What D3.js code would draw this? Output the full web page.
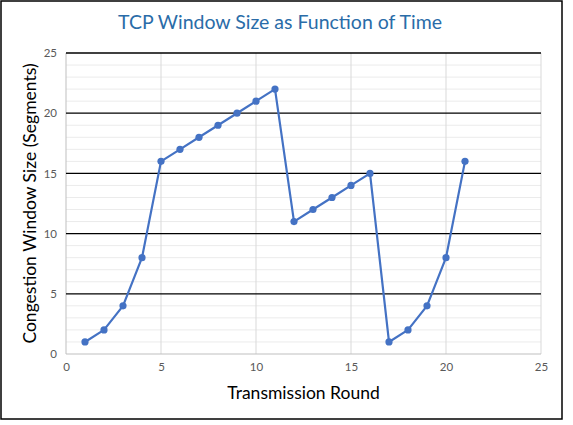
<!DOCTYPE html>
<html><head><meta charset="utf-8">
<script src="https://cdn.jsdelivr.net/npm/d3@7"></script>
<style>body{margin:0;background:#fff}svg{display:block}</style>
</head><body>
<script>
const rounds = [1,2,3,4,5,6,7,8,9,10,11,12,13,14,15,16,17,18,19,20,21];
const windowSize = [1,2,4,8,16,17,18,19,20,21,22,11,12,13,14,15,1,2,4,8,16];
const xTicks = [0,5,10,15,20,25];
const yTicks = [0,5,10,15,20,25];
const title = "TCP Window Size as Function of Time";
const xTitle = "Transmission Round";
const yTitle = "Congestion Window Size (Segments)";

const W = 573, H = 425;
const svg = d3.select("body").append("svg").attr("width", W).attr("height", H);
svg.append("rect").attr("x",1).attr("y",1).attr("width",561).attr("height",418)
  .attr("fill","#fff").attr("stroke","#000").attr("stroke-width",1.5);

const x = d3.scaleLinear().domain([0,25]).range([66,541]);
const y = d3.scaleLinear().domain([0,25]).range([354,53]);
const font = "Lato, 'Open Sans', sans-serif";

// minor horizontal gridlines
svg.append("g").selectAll("line").data(d3.range(1,25).filter(v=>v%5)).join("line")
  .attr("x1",x(0)).attr("x2",x(25)).attr("y1",d=>y(d)).attr("y2",d=>y(d))
  .attr("stroke","#ebebeb").attr("stroke-width",1);
// vertical major gridlines
svg.append("g").selectAll("line").data(xTicks.slice(1)).join("line")
  .attr("x1",d=>x(d)).attr("x2",d=>x(d)).attr("y1",y(0)).attr("y2",y(25))
  .attr("stroke","#d9d9d9").attr("stroke-width",1);
// left and bottom axis lines
svg.append("line").attr("x1",x(0)).attr("x2",x(0)).attr("y1",y(0)).attr("y2",y(25)).attr("stroke","#bfbfbf");
svg.append("line").attr("x1",x(0)).attr("x2",x(25)).attr("y1",y(0)).attr("y2",y(0)).attr("stroke","#bfbfbf");
// horizontal major gridlines (black)
svg.append("g").selectAll("line").data(yTicks.slice(1)).join("line")
  .attr("x1",x(0)).attr("x2",x(25)).attr("y1",d=>y(d)).attr("y2",d=>y(d))
  .attr("stroke","#000").attr("stroke-width",1.3);

// axes (labels only)
const xAxis = svg.append("g").attr("transform",`translate(0,${y(0)})`)
  .call(d3.axisBottom(x).tickValues(xTicks).tickSize(0).tickPadding(9));
const yAxis = svg.append("g").attr("transform",`translate(${x(0)},0)`)
  .call(d3.axisLeft(y).tickValues(yTicks).tickSize(0).tickPadding(9));
[xAxis,yAxis].forEach(g=>{
  g.select(".domain").remove();
  g.selectAll("text").attr("fill","#595959").style("font-family",font).style("font-size","11.5px");
});

// line
const pts = rounds.map((r,i)=>[r,windowSize[i]]);
svg.append("path").datum(pts)
  .attr("d", d3.line().x(d=>x(d[0])).y(d=>y(d[1])))
  .attr("fill","none").attr("stroke","#4472C4").attr("stroke-width",2.2).attr("stroke-linejoin","round");
svg.append("g").selectAll("circle").data(pts).join("circle")
  .attr("cx",d=>x(d[0])).attr("cy",d=>y(d[1])).attr("r",3.6).attr("fill","#4472C4");

// titles
svg.append("text").attr("x",280).attr("y",29).attr("text-anchor","middle")
  .attr("fill","#2A6CA8").style("font-family",font).style("font-size","19.5px").text(title);
svg.append("text").attr("x",(x(0)+x(25))/2).attr("y",399).attr("text-anchor","middle")
  .attr("fill","#000").style("font-family",font).style("font-size","17.5px").text(xTitle);
svg.append("text").attr("transform",`translate(36,${(y(0)+y(25))/2}) rotate(-90)`).attr("text-anchor","middle")
  .attr("fill","#000").style("font-family",font).style("font-size","17.5px").text(yTitle);
</script>
</body></html>
